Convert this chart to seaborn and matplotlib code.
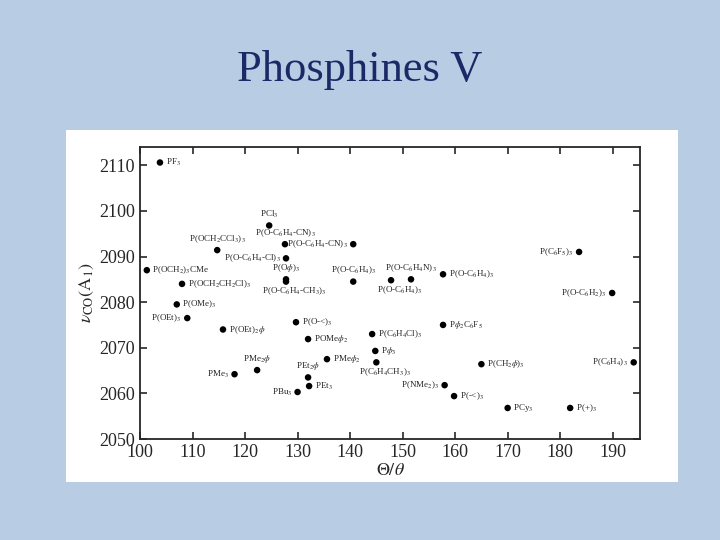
import matplotlib
matplotlib.use('Agg')
import matplotlib.pyplot as plt
import seaborn as sns
import pandas as pd

# cone angle vs CO stretching frequency
labels = ['PF$_3$', 'PCl$_3$', 'P(OCH$_2$CCl$_3$)$_3$', 'P(O-C$_6$H$_4$-CN)$_3$', 'P(O-C$_6$H$_4$-Cl)$_3$',
          'P(OCH$_2$)$_3$CMe', 'P(OCH$_2$CH$_2$Cl)$_3$', 'P(OMe)$_3$', 'P(OEt)$_3$', 'P(O$\\phi$)$_3$',
          'P(O-C$_6$H$_4$-CH$_3$)$_3$', 'P(O-C$_6$H$_4$-CN)$_3$', 'P(O-C$_6$H$_4$)$_3$', 'P(O-C$_6$H$_4$)$_3$',
          'P(O-C$_6$H$_4$N)$_3$', 'P(O-C$_6$H$_4$)$_3$', 'P(C$_6$F$_5$)$_3$', 'P(O-C$_6$H$_2$)$_3$',
          'P$\\phi_2$C$_6$F$_5$', 'P(C$_6$H$_4$Cl)$_3$', 'P$\\phi_3$', 'P(C$_6$H$_4$CH$_3$)$_3$',
          'P(CH$_2\\phi$)$_3$', 'P(C$_6$H$_4$)$_3$', 'P(NMe$_2$)$_3$', 'P(-<)$_3$', 'PCy$_3$', 'P(+)$_3$',
          'P(O-<)$_3$', 'P(OEt)$_2\\phi$', 'POMe$\\phi_2$', 'PMe$_2\\phi$', 'PMe$_3$', 'PEt$_2\\phi$',
          'PEt$_3$', 'PBu$_3$', 'PMe$\\phi_2$']
theta = [103.8, 124.6, 114.7, 127.6, 127.8, 101.3, 108.0, 107.0, 109.0, 127.8,
         127.8, 140.6, 140.6, 147.8, 151.6, 157.7, 183.6, 189.9, 157.7, 144.2,
         144.8, 145.0, 165.0, 194.0, 158.0, 159.8, 170.0, 181.9, 129.7, 115.8,
         132.0, 122.3, 118.0, 132.0, 132.2, 130.0, 135.6]
nu_co = [2110.6, 2096.8, 2091.4, 2092.7, 2089.6, 2087.0, 2084.0, 2079.5, 2076.5, 2085.0,
         2084.5, 2092.7, 2084.5, 2084.8, 2085.0, 2086.1, 2091.0, 2082.0, 2075.0, 2073.0,
         2069.3, 2066.8, 2066.4, 2066.8, 2061.8, 2059.4, 2056.8, 2056.8, 2075.6, 2074.0,
         2071.9, 2065.1, 2064.2, 2063.5, 2061.6, 2060.3, 2067.5]
# which side the label sits on (r = right of dot, l = left, a = above, b = below)
side = ['r', 'a', 'a', 'a', 'l', 'r', 'r', 'r', 'l', 'a',
        'b', 'l', 'a', 'b', 'a', 'r', 'l', 'l',
        'r', 'r', 'r', 'b', 'r', 'l', 'l', 'r', 'r', 'r',
        'r', 'r', 'r', 'a', 'l', 'a', 'r', 'l', 'r']

df = pd.DataFrame({'theta': theta, 'nu': nu_co, 'label': labels, 'side': side})

sns.set_style('ticks')
plt.rcParams['font.family'] = ['Liberation Serif', 'DejaVu Serif']
plt.rcParams['mathtext.fontset'] = 'stix'

fig = plt.figure(figsize=(7.2, 5.4), dpi=100)
fig.patch.set_facecolor('#b8cce4')
bg = fig.add_axes([66/720, 1-482/540, 612/720, 352/540], zorder=0)
bg.axis('off')
bg.add_patch(plt.Rectangle((0, 0), 1, 1, transform=bg.transAxes, color='white'))
fig.text(0.5, 0.87, 'Phosphines V', ha='center', va='center', fontsize=32, color='#1a2a66')

ax = fig.add_axes([140/720, 1-439/540, 500/720, 292/540], zorder=2)
sns.scatterplot(data=df, x='theta', y='nu', color='black', s=22, edgecolor='none', ax=ax, zorder=3)

offs = {'r': (4, 0, 'left', 'center'), 'l': (-4, 0, 'right', 'center'),
        'a': (0, 4, 'center', 'bottom'), 'b': (6, -3, 'center', 'top')}
for _, row in df.iterrows():
    dx, dy, ha, va = offs[row['side']]
    ax.annotate(row['label'], (row['theta'], row['nu']), xytext=(dx, dy), textcoords='offset points',
                ha=ha, va=va, fontsize=6.5)

ax.set_xlim(100, 195.2)
ax.set_ylim(2050, 2114)
ax.set_xticks(range(100, 191, 10))
ax.set_yticks(range(2050, 2111, 10))
ax.tick_params(direction='in', top=True, right=True, labelsize=13, length=5, width=1.2)
for s in ax.spines.values():
    s.set_linewidth(1.3)
ax.set_xlabel('$\\Theta/\\theta$', fontsize=13, labelpad=1)
ax.set_ylabel('$\\nu_{\\rm CO}({\\rm A}_1)$', fontsize=13, labelpad=2)
fig.savefig('out.png', dpi=100, facecolor=fig.get_facecolor())
